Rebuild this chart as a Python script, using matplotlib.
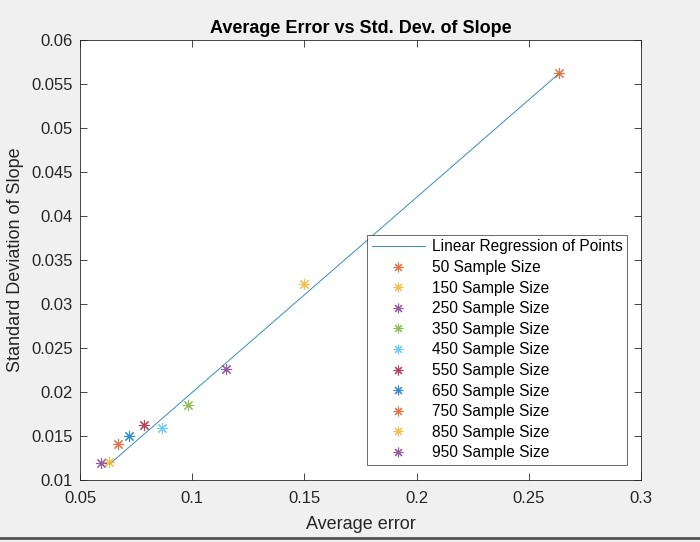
import numpy as np
import matplotlib.pyplot as plt

# ── DATA ──────────────────────────────────────────────────────────────────────
labels = ["50 Sample Size", "150 Sample Size", "250 Sample Size", "350 Sample Size",
          "450 Sample Size", "550 Sample Size", "650 Sample Size", "750 Sample Size",
          "850 Sample Size", "950 Sample Size"]
avg_error = [0.2634, 0.1496, 0.1152, 0.0982, 0.0865, 0.0783, 0.0717, 0.0668, 0.0631, 0.0594]
std_slope = [0.0563, 0.0323, 0.0226, 0.0185, 0.0159, 0.01625, 0.0150, 0.01406, 0.0120, 0.0119]

# regression line end points
reg_x = [0.0632, 0.2630]
reg_y = [0.0118, 0.0561]

xticks = [0.05, 0.1, 0.15, 0.2, 0.25, 0.3]
yticks = [0.01, 0.015, 0.02, 0.025, 0.03, 0.035, 0.04, 0.045, 0.05, 0.055, 0.06]

# MATLAB default colour order
MCOLORS = ["#0072BD", "#D95319", "#EDB120", "#7E2F8E", "#77AC30", "#4DBEEE", "#A2142F"]
BG = "#F0F0F0"
DARK = "#262626"

plt.rcParams["font.family"] = ["Liberation Sans", "DejaVu Sans"]

fig = plt.figure(figsize=(7, 5.42), dpi=100, facecolor=BG)
ax = fig.add_axes([0.1143, 0.1144, 0.8014, 0.8116])
ax.set_facecolor("white")

ax.plot(reg_x, reg_y, color=MCOLORS[0], linewidth=0.7, alpha=0.8,
        label="Linear Regression of Points")

for i, (x, y, lab) in enumerate(zip(avg_error, std_slope, labels)):
    c = MCOLORS[(i + 1) % len(MCOLORS)]
    ax.plot(x, y, linestyle="none", marker=(8, 2, 0), markersize=8,
            markeredgewidth=0.8, color=c, alpha=0.8, label=lab)

ax.set_xlim(0.05, 0.3)
ax.set_ylim(0.01, 0.06)
ax.set_xticks(xticks)
ax.set_xticklabels([f"{v:g}" for v in xticks])
ax.set_yticks(yticks)
ax.set_yticklabels([f"{v:g}" for v in yticks])

ax.tick_params(direction="in", top=True, right=True, length=5, width=0.6,
               labelsize=12, colors=DARK)
ax.tick_params(axis="x", pad=8)
ax.tick_params(axis="y", pad=5)
for s in ax.spines.values():
    s.set_color(DARK)
    s.set_linewidth(0.6)

ax.set_title("Average Error vs Std. Dev. of Slope", fontsize=13, fontweight="bold",
             color="black", pad=5)
ax.set_xlabel("Average error", fontsize=13, color=DARK, labelpad=7)
ax.set_ylabel("Standard Deviation of Slope", fontsize=13, color=DARK, labelpad=5)

leg = ax.legend(loc="lower right", bbox_to_anchor=(0.975, 0.034), fontsize=11.2,
                frameon=True, fancybox=False, edgecolor=DARK,
                handlelength=3.4, handletextpad=0.45, labelspacing=0.36,
                borderpad=0.3, borderaxespad=0)
leg.get_frame().set_linewidth(0.6)
for h in leg.legend_handles[1:]:
    h.set_markersize(7)

# screenshot bottom border
fig.add_artist(plt.Line2D([0, 1], [0.008, 0.008], color="#555555", linewidth=2,
                          transform=fig.transFigure))

fig.savefig("out.png", dpi=100, facecolor=BG)
